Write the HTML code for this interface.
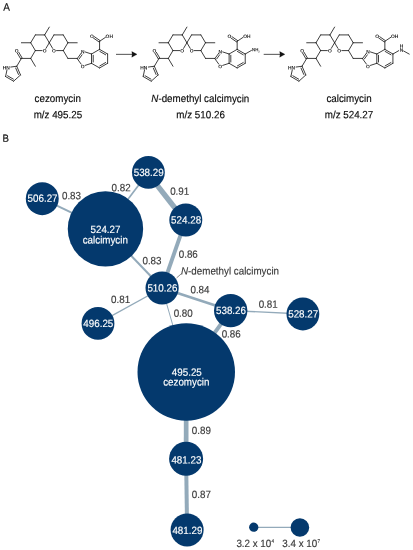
<!DOCTYPE html>
<html><head><meta charset="utf-8"><title>Figure</title>
<style>html,body{margin:0;padding:0;background:#fff}svg{display:block;font-family:"Liberation Sans",Arial,sans-serif}</style>
</head><body>
<svg width="413" height="550" viewBox="0 0 413 550">
<rect width="413" height="550" fill="#fff"/>
<g stroke="#1c1c1c" stroke-width="0.85" stroke-linecap="round" fill="none"><line x1="30.70" y1="42.75" x2="35.35" y2="34.92"/><line x1="35.35" y1="34.92" x2="44.65" y2="34.92"/><line x1="44.65" y1="34.92" x2="49.30" y2="42.75"/><line x1="49.30" y1="42.75" x2="45.95" y2="48.39"/><line x1="42.05" y1="50.58" x2="35.35" y2="50.58"/><line x1="35.35" y1="50.58" x2="30.70" y2="42.75"/><line x1="49.30" y1="42.75" x2="53.95" y2="34.92"/><line x1="53.95" y1="34.92" x2="63.25" y2="34.92"/><line x1="63.25" y1="34.92" x2="67.90" y2="42.75"/><line x1="67.90" y1="42.75" x2="63.25" y2="50.58"/><line x1="63.25" y1="50.58" x2="56.55" y2="50.58"/><line x1="52.65" y1="48.39" x2="49.30" y2="42.75"/><line x1="44.65" y1="34.92" x2="49.30" y2="27.09"/><line x1="30.70" y1="42.75" x2="21.40" y2="42.75"/><line x1="67.90" y1="42.75" x2="77.20" y2="42.75"/><line x1="35.35" y1="50.58" x2="30.70" y2="58.41"/><line x1="30.70" y1="58.41" x2="35.35" y2="66.24"/><line x1="30.70" y1="58.41" x2="21.40" y2="58.41"/><line x1="22.14" y1="57.99" x2="18.79" y2="52.35"/><line x1="20.66" y1="58.82" x2="17.31" y2="53.18"/><line x1="21.40" y1="58.41" x2="16.75" y2="66.24"/><line x1="16.75" y1="66.24" x2="20.53" y2="74.98"/><line x1="20.53" y1="74.98" x2="13.62" y2="81.20"/><line x1="13.62" y1="81.20" x2="5.57" y2="76.55"/><line x1="5.57" y1="76.55" x2="6.97" y2="69.93"/><line x1="10.77" y1="67.03" x2="16.75" y2="66.24"/><line x1="15.69" y1="68.04" x2="18.46" y2="74.46"/><line x1="13.37" y1="79.14" x2="7.55" y2="75.78"/><line x1="63.25" y1="50.58" x2="67.90" y2="58.41"/><line x1="67.90" y1="58.41" x2="77.20" y2="58.41"/><line x1="77.20" y1="58.66" x2="81.17" y2="53.20"/><line x1="85.13" y1="51.93" x2="91.51" y2="54.01"/><line x1="91.51" y1="54.01" x2="91.51" y2="63.31"/><line x1="91.51" y1="63.31" x2="85.13" y2="65.38"/><line x1="81.17" y1="64.12" x2="77.20" y2="58.66"/><line x1="79.05" y1="58.98" x2="82.09" y2="54.79"/><line x1="91.51" y1="54.01" x2="99.57" y2="49.36"/><line x1="99.57" y1="49.36" x2="107.62" y2="54.01"/><line x1="107.62" y1="54.01" x2="107.62" y2="63.31"/><line x1="107.62" y1="63.31" x2="99.57" y2="67.96"/><line x1="99.57" y1="67.96" x2="91.51" y2="63.31"/><line x1="99.81" y1="51.42" x2="105.63" y2="54.78"/><line x1="105.63" y1="62.53" x2="99.81" y2="65.89"/><line x1="93.21" y1="62.04" x2="93.21" y2="55.27"/><line x1="99.57" y1="49.36" x2="99.57" y2="41.30"/><line x1="100.06" y1="40.63" x2="94.42" y2="36.70"/><line x1="99.07" y1="41.97" x2="93.43" y2="38.05"/><line x1="99.57" y1="41.30" x2="105.48" y2="37.34"/><line x1="168.30" y1="42.75" x2="172.95" y2="34.92"/><line x1="172.95" y1="34.92" x2="182.25" y2="34.92"/><line x1="182.25" y1="34.92" x2="186.90" y2="42.75"/><line x1="186.90" y1="42.75" x2="183.55" y2="48.39"/><line x1="179.65" y1="50.58" x2="172.95" y2="50.58"/><line x1="172.95" y1="50.58" x2="168.30" y2="42.75"/><line x1="186.90" y1="42.75" x2="191.55" y2="34.92"/><line x1="191.55" y1="34.92" x2="200.85" y2="34.92"/><line x1="200.85" y1="34.92" x2="205.50" y2="42.75"/><line x1="205.50" y1="42.75" x2="200.85" y2="50.58"/><line x1="200.85" y1="50.58" x2="194.15" y2="50.58"/><line x1="190.25" y1="48.39" x2="186.90" y2="42.75"/><line x1="182.25" y1="34.92" x2="186.90" y2="27.09"/><line x1="168.30" y1="42.75" x2="159.00" y2="42.75"/><line x1="205.50" y1="42.75" x2="214.80" y2="42.75"/><line x1="172.95" y1="50.58" x2="168.30" y2="58.41"/><line x1="168.30" y1="58.41" x2="172.95" y2="66.24"/><line x1="168.30" y1="58.41" x2="159.00" y2="58.41"/><line x1="159.74" y1="57.99" x2="156.39" y2="52.35"/><line x1="158.26" y1="58.82" x2="154.91" y2="53.18"/><line x1="159.00" y1="58.41" x2="154.35" y2="66.24"/><line x1="154.35" y1="66.24" x2="158.13" y2="74.98"/><line x1="158.13" y1="74.98" x2="151.22" y2="81.20"/><line x1="151.22" y1="81.20" x2="143.17" y2="76.55"/><line x1="143.17" y1="76.55" x2="144.57" y2="69.93"/><line x1="148.37" y1="67.03" x2="154.35" y2="66.24"/><line x1="153.29" y1="68.04" x2="156.06" y2="74.46"/><line x1="150.97" y1="79.14" x2="145.15" y2="75.78"/><line x1="200.85" y1="50.58" x2="205.50" y2="58.41"/><line x1="205.50" y1="58.41" x2="214.80" y2="58.41"/><line x1="214.80" y1="58.66" x2="218.77" y2="53.20"/><line x1="222.73" y1="51.93" x2="229.11" y2="54.01"/><line x1="229.11" y1="54.01" x2="229.11" y2="63.31"/><line x1="229.11" y1="63.31" x2="222.73" y2="65.38"/><line x1="218.77" y1="64.12" x2="214.80" y2="58.66"/><line x1="216.65" y1="58.98" x2="219.69" y2="54.79"/><line x1="229.11" y1="54.01" x2="237.17" y2="49.36"/><line x1="237.17" y1="49.36" x2="245.22" y2="54.01"/><line x1="245.22" y1="54.01" x2="245.22" y2="63.31"/><line x1="245.22" y1="63.31" x2="237.17" y2="67.96"/><line x1="237.17" y1="67.96" x2="229.11" y2="63.31"/><line x1="237.41" y1="51.42" x2="243.23" y2="54.78"/><line x1="243.23" y1="62.53" x2="237.41" y2="65.89"/><line x1="230.81" y1="62.04" x2="230.81" y2="55.27"/><line x1="237.17" y1="49.36" x2="237.17" y2="41.30"/><line x1="237.66" y1="40.63" x2="232.02" y2="36.70"/><line x1="236.67" y1="41.97" x2="231.03" y2="38.05"/><line x1="237.17" y1="41.30" x2="243.08" y2="37.34"/><line x1="245.22" y1="54.01" x2="251.47" y2="50.41"/><line x1="316.00" y1="42.75" x2="320.65" y2="34.92"/><line x1="320.65" y1="34.92" x2="329.95" y2="34.92"/><line x1="329.95" y1="34.92" x2="334.60" y2="42.75"/><line x1="334.60" y1="42.75" x2="331.25" y2="48.39"/><line x1="327.35" y1="50.58" x2="320.65" y2="50.58"/><line x1="320.65" y1="50.58" x2="316.00" y2="42.75"/><line x1="334.60" y1="42.75" x2="339.25" y2="34.92"/><line x1="339.25" y1="34.92" x2="348.55" y2="34.92"/><line x1="348.55" y1="34.92" x2="353.20" y2="42.75"/><line x1="353.20" y1="42.75" x2="348.55" y2="50.58"/><line x1="348.55" y1="50.58" x2="341.85" y2="50.58"/><line x1="337.95" y1="48.39" x2="334.60" y2="42.75"/><line x1="329.95" y1="34.92" x2="334.60" y2="27.09"/><line x1="316.00" y1="42.75" x2="306.70" y2="42.75"/><line x1="353.20" y1="42.75" x2="362.50" y2="42.75"/><line x1="320.65" y1="50.58" x2="316.00" y2="58.41"/><line x1="316.00" y1="58.41" x2="320.65" y2="66.24"/><line x1="316.00" y1="58.41" x2="306.70" y2="58.41"/><line x1="307.44" y1="57.99" x2="304.09" y2="52.35"/><line x1="305.96" y1="58.82" x2="302.61" y2="53.18"/><line x1="306.70" y1="58.41" x2="302.05" y2="66.24"/><line x1="302.05" y1="66.24" x2="305.83" y2="74.98"/><line x1="305.83" y1="74.98" x2="298.92" y2="81.20"/><line x1="298.92" y1="81.20" x2="290.87" y2="76.55"/><line x1="290.87" y1="76.55" x2="292.27" y2="69.93"/><line x1="296.07" y1="67.03" x2="302.05" y2="66.24"/><line x1="300.99" y1="68.04" x2="303.76" y2="74.46"/><line x1="298.67" y1="79.14" x2="292.85" y2="75.78"/><line x1="348.55" y1="50.58" x2="353.20" y2="58.41"/><line x1="353.20" y1="58.41" x2="362.50" y2="58.41"/><line x1="362.50" y1="58.66" x2="366.47" y2="53.20"/><line x1="370.43" y1="51.93" x2="376.81" y2="54.01"/><line x1="376.81" y1="54.01" x2="376.81" y2="63.31"/><line x1="376.81" y1="63.31" x2="370.43" y2="65.38"/><line x1="366.47" y1="64.12" x2="362.50" y2="58.66"/><line x1="364.35" y1="58.98" x2="367.39" y2="54.79"/><line x1="376.81" y1="54.01" x2="384.87" y2="49.36"/><line x1="384.87" y1="49.36" x2="392.92" y2="54.01"/><line x1="392.92" y1="54.01" x2="392.92" y2="63.31"/><line x1="392.92" y1="63.31" x2="384.87" y2="67.96"/><line x1="384.87" y1="67.96" x2="376.81" y2="63.31"/><line x1="385.11" y1="51.42" x2="390.93" y2="54.78"/><line x1="390.93" y1="62.53" x2="385.11" y2="65.89"/><line x1="378.51" y1="62.04" x2="378.51" y2="55.27"/><line x1="384.87" y1="49.36" x2="384.87" y2="41.30"/><line x1="385.36" y1="40.63" x2="379.72" y2="36.70"/><line x1="384.37" y1="41.97" x2="378.73" y2="38.05"/><line x1="384.87" y1="41.30" x2="390.78" y2="37.34"/><line x1="392.92" y1="54.01" x2="398.74" y2="50.66"/><line x1="403.64" y1="51.00" x2="409.23" y2="54.08"/></g>
<g font-size="5.0" font-weight="bold" fill="#1c1c1c"><text transform="translate(44.65,52.58) scale(0.98,1) rotate(0.05)" text-anchor="middle">O</text><text transform="translate(53.95,52.58) scale(0.98,1) rotate(0.05)" text-anchor="middle">O</text><text transform="translate(16.75,52.58) scale(0.98,1) rotate(0.05)" text-anchor="middle">O</text><text transform="translate(9.80,69.46) scale(0.98,1) rotate(0.05)" text-anchor="end">HN</text><text transform="translate(82.67,53.52) scale(0.98,1) rotate(0.05)" text-anchor="middle">N</text><text transform="translate(82.67,68.18) scale(0.98,1) rotate(0.05)" text-anchor="middle">O</text><text transform="translate(91.81,37.91) scale(0.98,1) rotate(0.05)" text-anchor="middle">O</text><text transform="translate(105.62,37.91) scale(0.98,1) rotate(0.05)" text-anchor="start">OH</text><text transform="translate(182.25,52.58) scale(0.98,1) rotate(0.05)" text-anchor="middle">O</text><text transform="translate(191.55,52.58) scale(0.98,1) rotate(0.05)" text-anchor="middle">O</text><text transform="translate(154.35,52.58) scale(0.98,1) rotate(0.05)" text-anchor="middle">O</text><text transform="translate(147.40,69.46) scale(0.98,1) rotate(0.05)" text-anchor="end">HN</text><text transform="translate(220.27,53.52) scale(0.98,1) rotate(0.05)" text-anchor="middle">N</text><text transform="translate(220.27,68.18) scale(0.98,1) rotate(0.05)" text-anchor="middle">O</text><text transform="translate(229.41,37.91) scale(0.98,1) rotate(0.05)" text-anchor="middle">O</text><text transform="translate(243.22,37.91) scale(0.98,1) rotate(0.05)" text-anchor="start">OH</text><text transform="translate(251.97,51.27) scale(0.88,0.95) rotate(0.05)">NH<tspan font-size="2.8" dy="1.2">2</tspan></text><text transform="translate(329.95,52.58) scale(0.98,1) rotate(0.05)" text-anchor="middle">O</text><text transform="translate(339.25,52.58) scale(0.98,1) rotate(0.05)" text-anchor="middle">O</text><text transform="translate(302.05,52.58) scale(0.98,1) rotate(0.05)" text-anchor="middle">O</text><text transform="translate(295.10,69.46) scale(0.98,1) rotate(0.05)" text-anchor="end">HN</text><text transform="translate(367.97,53.52) scale(0.98,1) rotate(0.05)" text-anchor="middle">N</text><text transform="translate(367.97,68.18) scale(0.98,1) rotate(0.05)" text-anchor="middle">O</text><text transform="translate(377.11,37.91) scale(0.98,1) rotate(0.05)" text-anchor="middle">O</text><text transform="translate(390.92,37.91) scale(0.98,1) rotate(0.05)" text-anchor="start">OH</text><text transform="translate(401.47,51.85) scale(0.98,1) rotate(0.05)" text-anchor="middle">N</text><text transform="translate(401.47,47.87) scale(0.98,1) rotate(0.05)" text-anchor="middle">H</text></g>
<line x1="116" y1="54.35" x2="133.7" y2="54.35" stroke="#333" stroke-width="0.85"/><path d="M137.0,54.35 L131.79999999999998,51.550000000000004 L132.2,54.35 L131.79999999999998,57.15 Z" fill="#111" stroke="#111" stroke-width="0.3" stroke-linejoin="round"/>
<line x1="263.7" y1="54.35" x2="281.6" y2="54.35" stroke="#333" stroke-width="0.85"/><path d="M284.90000000000003,54.35 L279.70000000000005,51.550000000000004 L280.1,54.35 L279.70000000000005,57.15 Z" fill="#111" stroke="#111" stroke-width="0.3" stroke-linejoin="round"/>
<line x1="42.25" y1="198.7" x2="105.45" y2="228.9" stroke="#93aaba" stroke-width="2.05"/><line x1="105.45" y1="228.9" x2="148.4" y2="172.3" stroke="#93aaba" stroke-width="1.70"/><line x1="147.0" y1="172.3" x2="184.4" y2="220.0" stroke="#93aaba" stroke-width="5.30"/><line x1="185.8" y1="220.0" x2="162.1" y2="288.0" stroke="#93aaba" stroke-width="3.90"/><line x1="105.45" y1="228.9" x2="162.1" y2="288.0" stroke="#93aaba" stroke-width="2.05"/><line x1="162.1" y1="288.0" x2="98.0" y2="323.4" stroke="#93aaba" stroke-width="1.35"/><line x1="162.1" y1="288.0" x2="230.7" y2="310.6" stroke="#93aaba" stroke-width="2.60"/><line x1="162.1" y1="288.0" x2="186.25" y2="372.0" stroke="#93aaba" stroke-width="1.00"/><line x1="230.7" y1="310.6" x2="302.9" y2="314.0" stroke="#93aaba" stroke-width="1.35"/><line x1="230.7" y1="310.6" x2="186.25" y2="372.0" stroke="#93aaba" stroke-width="3.90"/><line x1="186.25" y1="372.0" x2="186.1" y2="458.8" stroke="#93aaba" stroke-width="4.70"/><line x1="186.1" y1="458.8" x2="187.1" y2="529.9" stroke="#93aaba" stroke-width="4.00"/><line x1="253.7" y1="527.3" x2="299.8" y2="527.3" stroke="#93aaba" stroke-width="1.2"/><line x1="176.6" y1="277.9" x2="181.6" y2="273.5" stroke="#333" stroke-width="0.6"/><circle cx="148.4" cy="172.3" r="16.4" fill="#04396d"/><circle cx="42.25" cy="198.7" r="16.45" fill="#04396d"/><circle cx="105.45" cy="228.9" r="37.7" fill="#04396d"/><circle cx="185.8" cy="220.0" r="16.5" fill="#04396d"/><circle cx="162.1" cy="288.0" r="16.6" fill="#04396d"/><circle cx="98.0" cy="323.4" r="16.4" fill="#04396d"/><circle cx="230.7" cy="310.6" r="16.7" fill="#04396d"/><circle cx="302.9" cy="314.0" r="16.4" fill="#04396d"/><circle cx="186.25" cy="372.0" r="48.75" fill="#04396d"/><circle cx="186.1" cy="458.8" r="17.0" fill="#04396d"/><circle cx="187.1" cy="529.9" r="16.5" fill="#04396d"/><circle cx="253.75" cy="527.2" r="4.65" fill="#04396d"/><circle cx="299.9" cy="527.5" r="9.3" fill="#04396d"/>
<g font-size="10.55" stroke-width="0.15"><text transform="translate(3.3,10.7) scale(0.93,1) rotate(0.05)" text-anchor="start" fill="#0a0a0a" stroke="#0a0a0a" font-size="10.8">A</text><text transform="translate(2.6,141.8) scale(0.93,1) rotate(0.05)" text-anchor="start" fill="#0a0a0a" stroke="#0a0a0a" font-size="10.4">B</text><text transform="translate(57.7,102.1) scale(0.93,1) rotate(0.05)" text-anchor="middle" fill="#0a0a0a" stroke="#0a0a0a">cezomycin</text><text transform="translate(57.9,118.2) scale(0.93,1) rotate(0.05)" text-anchor="middle" fill="#0a0a0a" stroke="#0a0a0a">m/z 495.25</text><text transform="translate(200.3,102.1) scale(0.93,1) rotate(0.05)" text-anchor="middle" fill="#0a0a0a" stroke="#0a0a0a"><tspan font-style="italic">N</tspan>-demethyl calcimycin</text><text transform="translate(200.6,118.2) scale(0.93,1) rotate(0.05)" text-anchor="middle" fill="#0a0a0a" stroke="#0a0a0a">m/z 510.26</text><text transform="translate(349,102.1) scale(0.93,1) rotate(0.05)" text-anchor="middle" fill="#0a0a0a" stroke="#0a0a0a">calcimycin</text><text transform="translate(349,118.2) scale(0.93,1) rotate(0.05)" text-anchor="middle" fill="#0a0a0a" stroke="#0a0a0a">m/z 524.27</text><text transform="translate(148.70000000000002,176.0) scale(0.93,1) rotate(0.05)" text-anchor="middle" fill="#fff" stroke="#fff">538.29</text><text transform="translate(42.55,201.79999999999998) scale(0.93,1) rotate(0.05)" text-anchor="middle" fill="#fff" stroke="#fff">506.27</text><text transform="translate(105.5,232.9) scale(0.93,1) rotate(0.05)" text-anchor="middle" fill="#fff" stroke="#fff">524.27</text><text transform="translate(105.3,243.4) scale(0.93,1) rotate(0.05)" text-anchor="middle" fill="#fff" stroke="#fff">calcimycin</text><text transform="translate(186.10000000000002,223.6) scale(0.93,1) rotate(0.05)" text-anchor="middle" fill="#fff" stroke="#fff">524.28</text><text transform="translate(162.4,291.6) scale(0.93,1) rotate(0.05)" text-anchor="middle" fill="#fff" stroke="#fff">510.26</text><text transform="translate(98.3,327.0) scale(0.93,1) rotate(0.05)" text-anchor="middle" fill="#fff" stroke="#fff">496.25</text><text transform="translate(231.0,314.1) scale(0.93,1) rotate(0.05)" text-anchor="middle" fill="#fff" stroke="#fff">538.26</text><text transform="translate(303.2,317.6) scale(0.93,1) rotate(0.05)" text-anchor="middle" fill="#fff" stroke="#fff">528.27</text><text transform="translate(186.8,375.8) scale(0.93,1) rotate(0.05)" text-anchor="middle" fill="#fff" stroke="#fff">495.25</text><text transform="translate(186.3,385.5) scale(0.93,1) rotate(0.05)" text-anchor="middle" fill="#fff" stroke="#fff">cezomycin</text><text transform="translate(186.4,463.6) scale(0.93,1) rotate(0.05)" text-anchor="middle" fill="#fff" stroke="#fff">481.23</text><text transform="translate(187.4,534.0) scale(0.93,1) rotate(0.05)" text-anchor="middle" fill="#fff" stroke="#fff">481.29</text><text transform="translate(61.949999999999996,199.2) scale(0.93,1) rotate(0.05)" text-anchor="start" fill="#3a3a3a" stroke="#3a3a3a">0.83</text><text transform="translate(111.55,191.2) scale(0.93,1) rotate(0.05)" text-anchor="start" fill="#3a3a3a" stroke="#3a3a3a">0.82</text><text transform="translate(170.15,194.7) scale(0.93,1) rotate(0.05)" text-anchor="start" fill="#3a3a3a" stroke="#3a3a3a">0.91</text><text transform="translate(178.75,257.7) scale(0.93,1) rotate(0.05)" text-anchor="start" fill="#3a3a3a" stroke="#3a3a3a">0.86</text><text transform="translate(142.45000000000002,264.35) scale(0.93,1) rotate(0.05)" text-anchor="start" fill="#3a3a3a" stroke="#3a3a3a">0.83</text><text transform="translate(190.45000000000002,293.2) scale(0.93,1) rotate(0.05)" text-anchor="start" fill="#3a3a3a" stroke="#3a3a3a">0.84</text><text transform="translate(111.05,302.9) scale(0.93,1) rotate(0.05)" text-anchor="start" fill="#3a3a3a" stroke="#3a3a3a">0.81</text><text transform="translate(173.65,316.8) scale(0.93,1) rotate(0.05)" text-anchor="start" fill="#3a3a3a" stroke="#3a3a3a">0.80</text><text transform="translate(258.65000000000003,307.8) scale(0.93,1) rotate(0.05)" text-anchor="start" fill="#3a3a3a" stroke="#3a3a3a">0.81</text><text transform="translate(221.65,337.5) scale(0.93,1) rotate(0.05)" text-anchor="start" fill="#3a3a3a" stroke="#3a3a3a">0.86</text><text transform="translate(191.85000000000002,434.0) scale(0.93,1) rotate(0.05)" text-anchor="start" fill="#3a3a3a" stroke="#3a3a3a">0.89</text><text transform="translate(191.85000000000002,498.0) scale(0.93,1) rotate(0.05)" text-anchor="start" fill="#3a3a3a" stroke="#3a3a3a">0.87</text><text transform="translate(181.0,274.5) scale(0.93,1) rotate(0.05)" text-anchor="start" fill="#3a3a3a" stroke="#3a3a3a"><tspan font-style="italic">N</tspan>-demethyl calcimycin</text><text transform="translate(236.4,547.0) scale(0.93,1) rotate(0.05)" text-anchor="start" fill="#3a3a3a" stroke="#3a3a3a">3.2 x 10<tspan font-size="5" dy="-4.2" dx="0.3">4</tspan></text><text transform="translate(282.3,547.0) scale(0.93,1) rotate(0.05)" text-anchor="start" fill="#3a3a3a" stroke="#3a3a3a">3.4 x 10<tspan font-size="5" dy="-4.2" dx="0.3">7</tspan></text></g>
</svg>
</body></html>
